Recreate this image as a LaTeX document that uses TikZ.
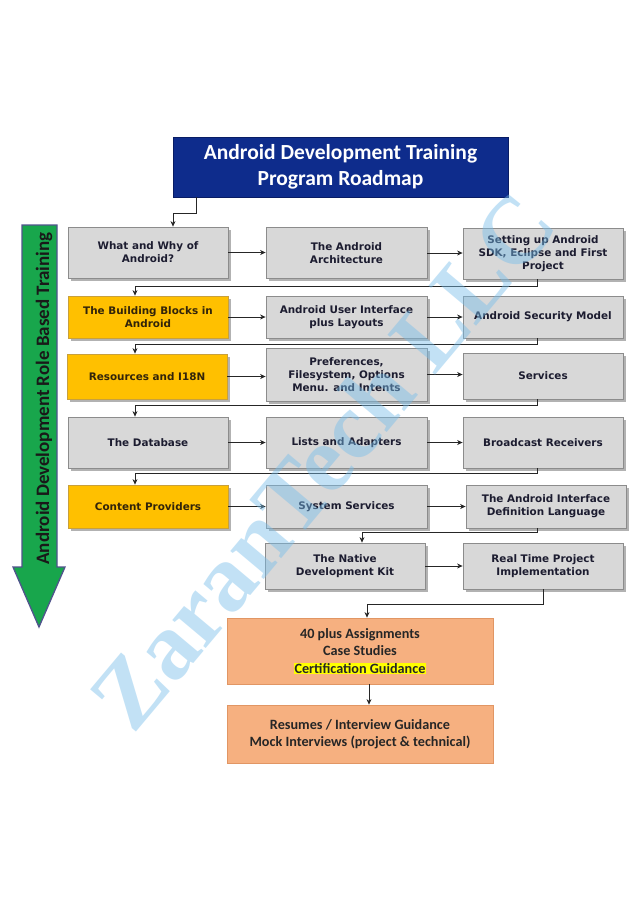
\documentclass[tikz,border=0pt]{standalone}
\usepackage{fontspec}
\setmainfont{DejaVu Sans}
\newfontfamily\calib{Carlito}
\newfontfamily\wmfont{Liberation Serif}
\usetikzlibrary{arrows.meta,shadows,calc}
\definecolor{titleblue}{RGB}{14,44,140}
\definecolor{titleline}{RGB}{8,28,100}
\definecolor{boxgray}{RGB}{216,216,216}
\definecolor{boxline}{RGB}{140,140,140}
\definecolor{boxyel}{RGB}{255,192,0}
\definecolor{boxyelline}{RGB}{200,160,60}
\definecolor{boxorg}{RGB}{246,176,128}
\definecolor{orgline}{RGB}{225,150,100}
\definecolor{txtgray}{RGB}{28,28,48}
\definecolor{txtyel}{RGB}{50,36,10}
\definecolor{grn}{RGB}{24,166,76}
\definecolor{grnline}{RGB}{80,84,140}
\definecolor{wm}{RGB}{120,190,235}
\definecolor{hl}{RGB}{255,255,0}
\tikzset{
  box/.style={line width=0.8pt, align=center, inner sep=2pt,
    font=\fontsize{10.4}{13}\selectfont\bfseries,
    drop shadow={shadow xshift=2.5pt, shadow yshift=-2.5pt, fill=black, opacity=0.3}},
  gbox/.style={box, draw=boxline, fill=boxgray, text=txtgray},
  ybox/.style={box, draw=boxyelline, fill=boxyel, text=txtyel},
  obox/.style={draw=orgline, fill=boxorg, line width=0.8pt, align=center, text=black!85,
    font=\calib\bfseries\fontsize{14.2}{17.5}\selectfont, minimum width=266pt},
  arr/.style={-{Stealth[length=5.5pt,width=5pt]}, line width=0.8pt, draw=black!85}
}
\begin{document}
\begin{tikzpicture}[x=1pt,y=-1pt]
\useasboundingbox[fill=white] (0,0) rectangle (638,903);

% title
\node[draw=titleline, fill=titleblue, text=white, minimum width=335pt, minimum height=60pt,
  align=center, font=\calib\bfseries\fontsize{21.5}{26}\selectfont] (title) at (340.5,167)
  {Android Development Training\\Program Roadmap};

% green arrow
\draw[fill=grn, draw=grnline, line width=1.3pt, line join=miter]
  (22,225) -- (57,225) -- (57,567) -- (65,567) -- (39,627) -- (13,567) -- (22,567) -- cycle;
\node[rotate=90, text=black!90, font=\calib\bfseries\fontsize{19}{22}\selectfont] (gtext) at (44,398.5)
  {Android Development Role Based Training};

% column 1
\node[gbox, minimum width=160pt, minimum height=51pt] (a11) at (148,252.5) {What and Why of\\Android?};
\node[ybox, minimum width=160pt, minimum height=42pt] (a12) at (148,317) {The Building Blocks in\\Android};
\node[ybox, minimum width=160pt, minimum height=45pt] (a13) at (147,376.5) {Resources and I18N};
\node[gbox, minimum width=160pt, minimum height=51pt] (a14) at (148,442.5) {The Database};
\node[ybox, minimum width=160pt, minimum height=43pt] (a15) at (148,506.5) {Content Providers};

% column 2
\node[gbox, minimum width=161pt, minimum height=51pt] (b11) at (346.5,253) {The Android\\Architecture};
\node[gbox, minimum width=161pt, minimum height=42pt] (b12) at (346.5,317) {Android User Interface\\plus Layouts};
\node[gbox, minimum width=161pt, minimum height=53pt] (b13) at (346.5,374.5) {Preferences,\\Filesystem, Options\\Menu. and Intents};
\node[gbox, minimum width=161pt, minimum height=51pt] (b14) at (346.5,442.5) {Lists and Adapters};
\node[gbox, minimum width=161pt, minimum height=43pt] (b15) at (346.5,506.5) {System Services};
\node[gbox, minimum width=160pt, minimum height=46pt] (b16) at (345,566) {The Native\\Development Kit};

% column 3
\node[gbox, minimum width=160pt, minimum height=51pt] (c11) at (543,253.5) {Setting up Android\\SDK, Eclipse and First\\Project};
\node[gbox, minimum width=160pt, minimum height=42pt] (c12) at (543,317) {Android Security Model};
\node[gbox, minimum width=160pt, minimum height=46pt] (c13) at (543,376) {Services};
\node[gbox, minimum width=160pt, minimum height=51pt] (c14) at (543,442.5) {Broadcast Receivers};
\node[gbox, minimum width=160pt, minimum height=43pt] (c15) at (546,506.5) {The Android Interface\\Definition Language};
\node[gbox, minimum width=160pt, minimum height=46pt] (c16) at (543,566) {Real Time Project\\Implementation};

% orange boxes
\node[obox, minimum height=66pt] (o1) at (360,651)
  {40 plus Assignments\\Case Studies\\{\setlength{\fboxsep}{0.5pt}\colorbox{hl}{Certification Guidance}}};
\node[obox, minimum height=58pt] (o2) at (360,734)
  {Resumes / Interview Guidance\\Mock Interviews (project \& technical)};

% title connector
\draw[arr] ([xshift=-144.5pt]title.south) -- ++(0,16) -| ([xshift=25pt]a11.north);

% horizontal arrows
\foreach \r in {1,2,3,4,5}{
  \draw[arr] (a1\r.east) -- (a1\r.east -| b1\r.west);
  \draw[arr] (b1\r.east) -- (b1\r.east -| c1\r.west);
}
\draw[arr] (b16.east) -- (b16.east -| c16.west);

% return connectors
\draw[arr] ([xshift=-6pt]c11.south) -- ++(0,7) -| ([xshift=-13pt]a12.north);
\draw[arr] ([xshift=-6pt]c12.south) -- ++(0,6) -| ([xshift=-12pt]a13.north);
\draw[arr] ([xshift=-6pt]c13.south) -- ++(0,6) -| ([xshift=-13pt]a14.north);
\draw[arr] ([xshift=-6pt]c14.south) -- ++(0,5) -| ([xshift=-13pt]a15.north);
\draw[arr] ([xshift=-9pt]c15.south) -- ++(0,4) -| ([xshift=17pt]b16.north);
\draw[arr] (c16.south) -- ++(0,15) -| ([xshift=7pt]o1.north);
\draw[arr] ([xshift=9pt]o1.south) -- ([xshift=9pt]o2.north);

% watermark
\node[rotate=50, text=wm, opacity=0.45, font=\wmfont\bfseries\fontsize{95}{95}\selectfont] (wm) at (322,460) {ZaranTech LLC};
\end{tikzpicture}
\end{document}
